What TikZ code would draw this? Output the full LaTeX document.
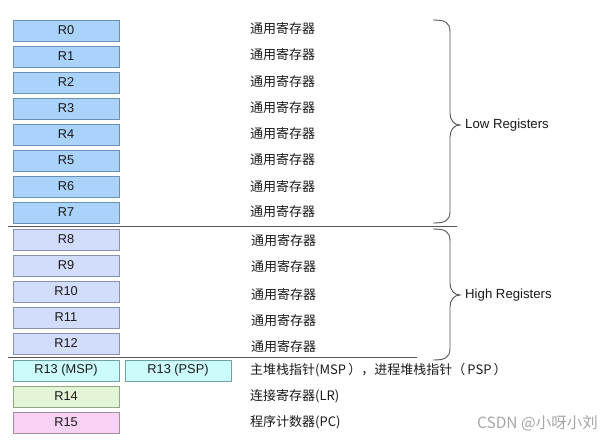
\documentclass[tikz,border=0pt]{standalone}
\usepackage{fontspec}
\setmainfont{Liberation Sans}
\newfontfamily\cjk{Noto Sans CJK SC}
\definecolor{lowfill}{HTML}{A9D3FA}
\definecolor{lowdraw}{HTML}{6D8FB5}
\definecolor{highfill}{HTML}{D2DCFB}
\definecolor{highdraw}{HTML}{8893B0}
\definecolor{spfill}{HTML}{CCFBFB}
\definecolor{spdraw}{HTML}{6FA3A3}
\definecolor{lrfill}{HTML}{E3F5D6}
\definecolor{lrdraw}{HTML}{8EA884}
\definecolor{pcfill}{HTML}{F8D2F5}
\definecolor{pcdraw}{HTML}{A48EA2}
\definecolor{linec}{HTML}{555555}
\definecolor{txt}{HTML}{1A1A1A}
\begin{document}
\begin{tikzpicture}[x=1pt,y=-1pt,
  reg/.style={draw, line width=0.9pt, minimum width=106pt, minimum height=21pt, inner sep=0pt,
     font=\fontsize{12.8}{12.8}\selectfont, text=txt},
  lowreg/.style={reg, fill=lowfill, draw=lowdraw},
  highreg/.style={reg, fill=highfill, draw=highdraw},
  spreg/.style={reg, fill=spfill, draw=spdraw},
  lrreg/.style={reg, fill=lrfill, draw=lrdraw},
  pcreg/.style={reg, fill=pcfill, draw=pcdraw},
  desc/.style={anchor=west, inner sep=0pt, text=txt, font=\cjk\fontsize{13}{13}\selectfont},
  grp/.style={anchor=west, inner sep=0pt, text=txt, font=\fontsize{13.2}{13.2}\selectfont},
  sep/.style={draw=linec, line width=0.9pt},
  brace/.style={draw=linec, line width=0.9pt}]
\useasboundingbox (0,0) rectangle (611,445);
% low registers
\foreach \i in {0,...,7}{
  \node[lowreg] (r\i) at (66,{30.5+26*\i}) {R\i};
}
\foreach \i/\y in {0/29,1/55,2/82,3/108,4/134,5/160,6/187,7/212}{
  \node[desc] (t\i) at (250,\y) {通用寄存器};
}
% high registers
\foreach \i/\k in {8/0,9/1,10/2,11/3,12/4}{
  \node[highreg] (r\i) at (66,{239.5+26*\k}) {R\i};
}
\foreach \i/\y in {8/241,9/267,10/295,11/321,12/347}{
  \node[desc] (t\i) at (251,\y) {通用寄存器};
}
% special registers
\node[spreg] (r13m) at (66,370.5) {R13 (MSP)};
\node[spreg] (r13p) at (178,370.5) {R13 (PSP)};
\node[lrreg] (r14) at (66,396.5) {R14};
\node[pcreg] (r15) at (66,422.5) {R15};
\node[desc] (t13) at (250,370) {主堆栈指针(MSP\,），进程堆栈指针（\,PSP\,）};
\node[desc] (t14) at (250,396) {连接寄存器(LR)};
\node[desc] (t15) at (250,422) {程序计数器(PC)};
% separators
\coordinate (s1a) at (8,226); \coordinate (s1b) at (457,226);
\coordinate (s2a) at (8,357); \coordinate (s2b) at (417,357);
\draw[sep] (s1a) -- (s1b);
\draw[sep] (s2a) -- (s2b);
% braces
\draw[brace] (433,20) .. controls (445,20) and (450,22) .. (450,32) -- (450,113)
  .. controls (450,120) and (454,125) .. (460,125)
  .. controls (454,125) and (450,130) .. (450,137) -- (450,211)
  .. controls (450,221) and (445,223) .. (433,223);
\draw[brace] (433,229) .. controls (445,229) and (450,231) .. (450,241) -- (450,283)
  .. controls (450,290) and (454,295) .. (460,295)
  .. controls (454,295) and (450,300) .. (450,307) -- (450,348)
  .. controls (450,358) and (445,360) .. (433,360);
\node[grp] (low) at (465,125) {Low Registers};
\node[grp] (high) at (465,295) {High Registers};
% watermark
\node[anchor=east, inner sep=0pt, text=black!35, font=\cjk\fontsize{15.5}{15.5}\selectfont] (wm) at (598,423) {CSDN @小呀小刘};
\end{tikzpicture}
\end{document}
